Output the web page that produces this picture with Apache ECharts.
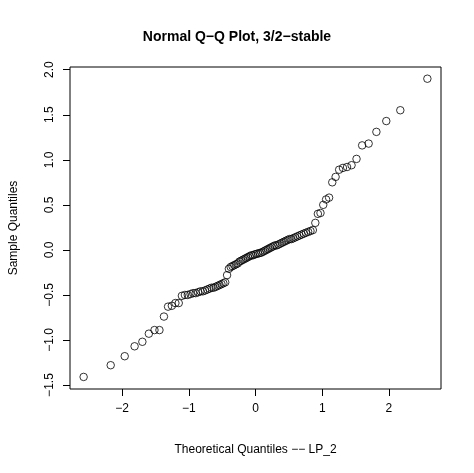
<!DOCTYPE html>
<html><head><meta charset="utf-8">
<script src="https://cdn.jsdelivr.net/npm/echarts@6/dist/echarts.min.js"></script>
<style>html,body{margin:0;padding:0;background:#fff}#c{width:474px;height:473px}</style>
</head><body><div id="c"></div>
<script>
const theoreticalLow = [-2.5758,-2.1701,-1.9600,-1.8119,-1.6954,-1.5982,-1.5141,-1.4395,-1.3722,-1.3106,
 -1.2536,-1.2004,-1.1503,-1.1031,-1.0581,-1.0152,-0.9741,-0.9346,-0.8965,-0.8596,
 -0.8239,-0.7892,-0.7554,-0.7225,-0.6903,-0.6588,-0.6280,-0.5978,-0.5681,-0.5388,
 -0.5101,-0.4817,-0.4538,-0.4261,-0.3989,-0.3719,-0.3451,-0.3186,-0.2924,-0.2663,
 -0.2404,-0.2147,-0.1891,-0.1637,-0.1383,-0.1130,-0.0878,-0.0627,-0.0376,-0.0125];
const theoreticalHigh = [0.0125,0.0376,0.0627,0.0878,0.1130,0.1383,0.1637,0.1891,0.2147,0.2404,
 0.2663,0.2924,0.3186,0.3451,0.3719,0.3989,0.4261,0.4538,0.4817,0.5101,
 0.5388,0.5681,0.5978,0.6280,0.6588,0.6903,0.7225,0.7554,0.7892,0.8239,
 0.8596,0.8965,0.9346,0.9741,1.0152,1.0581,1.1031,1.1503,1.2004,1.2536,
 1.3106,1.3722,1.4395,1.5141,1.5982,1.6954,1.8119,1.9600,2.1701,2.5758];
const sampleLow = [-1.41,-1.28,-1.18,-1.07,-1.02,-0.93,-0.89,-0.89,-0.74,-0.63,-0.62,-0.59,-0.59,
 -0.51,-0.50,-0.50,-0.49,-0.48,-0.48,-0.47,-0.46,-0.46,-0.45,-0.44,-0.43,-0.42,-0.42,-0.41,-0.40,-0.39,-0.38,-0.37,-0.36,
 -0.28,-0.21,
 -0.19,-0.18,-0.17,-0.16,-0.15,-0.13,-0.12,-0.11,-0.10,-0.09,-0.08,-0.07,-0.06,-0.06,-0.05];
const sampleHigh = [-0.045,-0.04,-0.035,-0.03,-0.02,-0.01,0.00,0.01,0.02,0.03,0.04,0.05,0.05,0.06,0.07,
 0.08,0.09,0.10,0.11,0.12,0.12,0.13,0.14,0.15,0.16,0.17,0.18,0.19,0.20,0.21,
 0.22,0.30,0.40,0.41,0.50,0.56,0.58,0.75,0.81,0.89,0.91,0.92,0.94,1.01,1.16,1.18,1.31,1.43,1.55,1.90];
const xTicks = [-2,-1,0,1,2];
const yTicks = [-1.5,-1.0,-0.5,0.0,0.5,1.0,1.5,2.0];

const theo = theoreticalLow.concat(theoreticalHigh);
const samp = sampleLow.concat(sampleHigh);
const pts = theo.map((t,i)=>[t,samp[i]]);
const F = 'Liberation Sans, Arial, sans-serif';
const chart = echarts.init(document.getElementById('c'));
chart.setOption({
  animation:false,
  title:{text:'Normal Q\u2212Q Plot, 3/2\u2212stable',left:'center',top:25,
    textStyle:{fontFamily:F,fontSize:14,fontWeight:'bold',color:'#000'}},
  grid:{left:66,right:33,top:67,bottom:84,show:true,borderColor:'#000',borderWidth:1},
  xAxis:{type:'value',min:-2.78,max:2.78,
    name:'Theoretical Quantiles \u2212\u2212 LP_2',nameLocation:'middle',nameGap:55,
    nameTextStyle:{fontFamily:F,fontSize:12,color:'#000'},
    axisLine:{show:false,onZero:false},splitLine:{show:false},
    axisTick:{show:true,inside:false,length:7,customValues:xTicks,lineStyle:{color:'#000'}},
    axisLabel:{customValues:xTicks,fontFamily:F,fontSize:12,color:'#000',margin:14,
      formatter:v=>String(v).replace('-','\u2212')}},
  yAxis:{type:'value',min:-1.544,max:2.03,
    name:'Sample Quantiles',nameLocation:'middle',nameGap:50,
    nameTextStyle:{fontFamily:F,fontSize:12,color:'#000'},
    axisLine:{show:false,onZero:false},splitLine:{show:false},
    axisTick:{show:true,length:7,customValues:yTicks,lineStyle:{color:'#000'}},
    axisLabel:{customValues:yTicks,rotate:90,fontFamily:F,fontSize:12,color:'#000',margin:14,
      formatter:v=>v.toFixed(1).replace('-','\u2212')}},
  series:[{type:'scatter',data:pts,symbol:'circle',symbolSize:7.5,
    itemStyle:{color:'rgba(0,0,0,0)',borderColor:'#000',borderWidth:1}}]
});
</script></body></html>
